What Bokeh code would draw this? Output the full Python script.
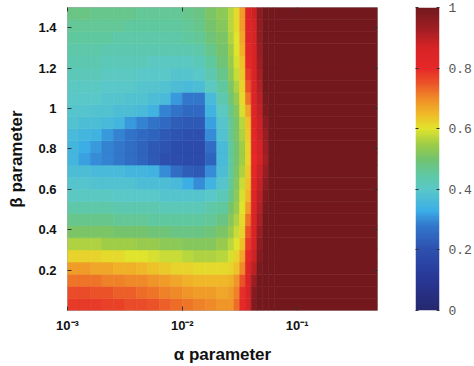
import numpy as np
from bokeh.plotting import figure
from bokeh.layouts import row
from bokeh.models import (LinearColorMapper, FixedTicker, CustomJSTickFormatter,
                          Range1d, ColumnDataSource, LinearAxis, LogAxis)
from bokeh.transform import transform
from bokeh.embed import file_html
from bokeh.resources import INLINE

# ---- data: cell edges (log10 alpha, beta) and values ----
log_alpha_edges = [-3.0, -2.9, -2.8, -2.7, -2.6, -2.5, -2.4, -2.3, -2.2, -2.1, -2.0,
                   -1.9, -1.8, -1.7, -1.6, -1.55, -1.5, -1.45, -1.4, -1.35, -1.3,
                   -1.25, -1.2, -0.3]
beta_edges = [0.0, 0.06, 0.12, 0.18, 0.24, 0.30, 0.36, 0.42, 0.48, 0.54, 0.60, 0.66,
              0.72, 0.78, 0.84, 0.90, 0.96, 1.02, 1.08, 1.14, 1.20, 1.26, 1.32, 1.38,
              1.44, 1.50]

Z = [
    [0.78,0.78,0.78,0.77,0.77,0.76,0.76,0.75,0.74,0.73,0.72,0.71,0.70,0.69,0.69,0.73,0.80,0.87,0.98,1,1,1,1],
    [0.76,0.76,0.75,0.75,0.74,0.74,0.73,0.72,0.71,0.70,0.69,0.68,0.68,0.67,0.68,0.71,0.79,0.86,0.97,1,1,1,1],
    [0.72,0.72,0.72,0.71,0.71,0.70,0.70,0.69,0.68,0.67,0.66,0.65,0.65,0.65,0.66,0.69,0.75,0.85,0.94,1,1,1,1],
    [0.68,0.68,0.67,0.67,0.66,0.66,0.65,0.64,0.63,0.62,0.62,0.61,0.61,0.61,0.62,0.64,0.70,0.83,0.90,0.99,1,1,1],
    [0.62,0.62,0.62,0.61,0.61,0.60,0.60,0.59,0.58,0.58,0.57,0.56,0.56,0.57,0.59,0.62,0.67,0.80,0.88,0.97,1,1,1],
    [0.56,0.56,0.56,0.55,0.55,0.55,0.54,0.54,0.53,0.53,0.52,0.52,0.52,0.54,0.57,0.60,0.64,0.78,0.87,0.96,1,1,1],
    [0.51,0.51,0.51,0.51,0.50,0.50,0.50,0.49,0.49,0.48,0.48,0.48,0.49,0.51,0.54,0.58,0.62,0.75,0.86,0.94,1,1,1],
    [0.47,0.47,0.47,0.47,0.46,0.46,0.46,0.45,0.45,0.45,0.45,0.45,0.46,0.48,0.52,0.56,0.61,0.72,0.86,0.92,1,1,1],
    [0.44,0.44,0.44,0.44,0.43,0.43,0.43,0.43,0.42,0.42,0.42,0.42,0.44,0.45,0.50,0.54,0.60,0.68,0.85,0.91,0.99,1,1],
    [0.41,0.41,0.41,0.41,0.40,0.40,0.40,0.40,0.39,0.39,0.39,0.39,0.40,0.42,0.47,0.53,0.59,0.65,0.84,0.90,0.98,1,1],
    [0.39,0.39,0.38,0.38,0.38,0.38,0.37,0.37,0.37,0.36,0.33,0.30,0.34,0.39,0.46,0.52,0.58,0.64,0.83,0.89,0.96,1,1],
    [0.37,0.37,0.36,0.36,0.36,0.35,0.35,0.34,0.30,0.26,0.23,0.22,0.30,0.37,0.45,0.51,0.56,0.63,0.82,0.88,0.94,1,1],
    [0.35,0.32,0.30,0.29,0.28,0.26,0.24,0.22,0.20,0.19,0.18,0.18,0.24,0.36,0.45,0.50,0.55,0.62,0.80,0.87,0.92,1,1],
    [0.35,0.33,0.31,0.29,0.28,0.26,0.24,0.22,0.21,0.19,0.18,0.18,0.26,0.36,0.45,0.50,0.55,0.62,0.81,0.87,0.93,1,1],
    [0.36,0.35,0.34,0.31,0.29,0.27,0.25,0.24,0.22,0.21,0.20,0.20,0.30,0.38,0.46,0.51,0.56,0.63,0.82,0.88,0.94,1,1],
    [0.38,0.37,0.37,0.36,0.35,0.31,0.29,0.27,0.25,0.23,0.22,0.22,0.32,0.39,0.46,0.51,0.57,0.64,0.83,0.88,0.96,1,1],
    [0.39,0.39,0.38,0.38,0.37,0.37,0.36,0.34,0.29,0.27,0.25,0.25,0.34,0.41,0.47,0.52,0.59,0.67,0.84,0.89,0.98,1,1],
    [0.40,0.40,0.40,0.39,0.39,0.38,0.38,0.37,0.36,0.31,0.28,0.28,0.36,0.43,0.49,0.54,0.61,0.72,0.85,0.90,0.99,1,1],
    [0.41,0.41,0.41,0.40,0.40,0.40,0.39,0.39,0.38,0.37,0.36,0.37,0.41,0.45,0.51,0.56,0.62,0.75,0.85,0.91,1,1,1],
    [0.42,0.42,0.42,0.41,0.41,0.41,0.40,0.40,0.40,0.39,0.39,0.40,0.43,0.47,0.53,0.58,0.63,0.78,0.86,0.92,1,1,1],
    [0.43,0.43,0.43,0.42,0.42,0.42,0.42,0.41,0.41,0.41,0.41,0.42,0.45,0.49,0.54,0.59,0.64,0.80,0.86,0.93,1,1,1],
    [0.44,0.44,0.44,0.43,0.43,0.43,0.43,0.43,0.43,0.43,0.43,0.44,0.47,0.50,0.55,0.60,0.66,0.82,0.87,0.94,1,1,1],
    [0.45,0.45,0.45,0.45,0.44,0.44,0.44,0.44,0.44,0.44,0.45,0.46,0.49,0.51,0.56,0.60,0.67,0.83,0.87,0.95,1,1,1],
    [0.46,0.46,0.46,0.46,0.46,0.45,0.45,0.45,0.45,0.45,0.46,0.47,0.50,0.52,0.57,0.61,0.68,0.84,0.87,0.95,1,1,1],
    [0.48,0.48,0.47,0.47,0.47,0.47,0.46,0.46,0.46,0.46,0.47,0.48,0.51,0.53,0.57,0.61,0.68,0.84,0.88,0.96,1,1,1],
]

x_ticks = [0.001, 0.01, 0.1]
y_ticks = [0.2, 0.4, 0.6, 0.8, 1.0, 1.2, 1.4]
cbar_ticks = [0.0, 0.2, 0.4, 0.6, 0.8, 1.0]

# ---- colour map (jet-like, as in the reference colour bar) ----
anchors = [
    (0.00, (38, 40, 110)), (0.10, (40, 55, 150)), (0.20, (45, 80, 175)),
    (0.28, (50, 120, 205)), (0.33, (60, 175, 230)), (0.40, (90, 200, 200)),
    (0.45, (95, 200, 160)), (0.50, (115, 195, 110)), (0.55, (160, 205, 70)),
    (0.60, (225, 228, 45)), (0.65, (240, 185, 40)), (0.70, (240, 140, 40)),
    (0.75, (235, 85, 40)), (0.80, (230, 40, 40)), (0.87, (215, 35, 38)),
    (0.93, (160, 30, 35)), (1.00, (115, 25, 30)),
]
palette = []
for k in range(256):
    t = k / 255
    for (a0, c0), (a1, c1) in zip(anchors[:-1], anchors[1:]):
        if a0 <= t <= a1:
            f = (t - a0) / (a1 - a0)
            c = tuple(int(round(c0[i] + f * (c1[i] - c0[i]))) for i in range(3))
            palette.append("#%02x%02x%02x" % c)
            break
mapper = LinearColorMapper(palette=palette, low=0, high=1)

left, right, bottom, top, z = [], [], [], [], []
for i, r in enumerate(Z):
    for j, v in enumerate(r):
        left.append(10 ** log_alpha_edges[j])
        right.append(10 ** log_alpha_edges[j + 1])
        bottom.append(beta_edges[i])
        top.append(beta_edges[i + 1])
        z.append(v)
src = ColumnDataSource(dict(left=left, right=right, bottom=bottom, top=top, z=z))

p = figure(width=395, height=366, x_axis_type="log",
           x_range=Range1d(0.001, 10 ** -0.3), y_range=Range1d(0, 1.5),
           output_backend="svg", toolbar_location=None,
           min_border_left=67, min_border_top=7, min_border_bottom=53, min_border_right=18)
p.quad(left="left", right="right", bottom="bottom", top="top", source=src,
       fill_color=transform("z", mapper), line_color=transform("z", mapper), line_width=0.6)

p.grid.visible = False
p.outline_line_color = "#b0b0b0"
p.background_fill_color = "white"

empty = CustomJSTickFormatter(code="return '';")
top_ax = LogAxis(ticker=FixedTicker(ticks=x_ticks), formatter=empty)
right_ax = LinearAxis(ticker=FixedTicker(ticks=y_ticks), formatter=empty)

p.xaxis.ticker = FixedTicker(ticks=x_ticks)
p.xaxis.formatter = CustomJSTickFormatter(code="""
const e = Math.round(Math.log10(tick));
const sup = {'-':'\u207b','0':'\u2070','1':'\u00b9','2':'\u00b2','3':'\u00b3','4':'\u2074','5':'\u2075','6':'\u2076','7':'\u2077','8':'\u2078','9':'\u2079'};
return '10' + String(e).split('').map(c => sup[c]).join('');
""")
p.yaxis.ticker = FixedTicker(ticks=y_ticks)
p.yaxis.formatter = CustomJSTickFormatter(code="return String(Math.round(tick*10)/10);")

p.xaxis.axis_label = "\u03b1 parameter"
p.yaxis.axis_label = "\u03b2 parameter"
for ax in (p.xaxis[0], p.yaxis[0], top_ax, right_ax):
    ax.axis_line_color = None
    ax.major_tick_in = 4
    ax.major_tick_out = 0
    ax.major_tick_line_color = "#333333"
    ax.minor_tick_line_color = None
    ax.major_label_text_font = "Liberation Sans"
    ax.major_label_text_font_style = "bold"
    ax.major_label_text_font_size = "13px"
    ax.major_label_text_color = "#111111"
    ax.axis_label_text_font = "Liberation Sans"
    ax.axis_label_text_font_style = "bold"
    ax.axis_label_text_font_size = "17px"
    ax.axis_label_text_color = "#111111"
p.xaxis.major_label_standoff = 7
p.yaxis.major_label_standoff = 11
p.xaxis.axis_label_standoff = 9
p.yaxis.axis_label_standoff = 9
top_ax.major_label_standoff = 0
right_ax.major_label_standoff = 0
p.add_layout(top_ax, "above")
p.add_layout(right_ax, "right")

# ---- colour bar as its own small figure ----
cb = figure(width=79, height=366, x_range=Range1d(0, 1), y_range=Range1d(0, 1),
            x_axis_location=None, y_axis_location=None,
            output_backend="svg", toolbar_location=None,
            min_border_left=20, min_border_top=7, min_border_bottom=53, min_border_right=0)
levels = np.linspace(0, 1, 256).reshape(256, 1)
cb.image(image=[levels], x=0, y=0, dw=1, dh=1, color_mapper=mapper)
cb.grid.visible = False
cb.outline_line_color = None
cb_left = LinearAxis(ticker=FixedTicker(ticks=cbar_ticks), formatter=empty)
cb_right = LinearAxis(ticker=FixedTicker(ticks=cbar_ticks),
                      formatter=CustomJSTickFormatter(code="return String(Math.round(tick*10)/10);"))
for ax in (cb_left, cb_right):
    ax.axis_line_color = None
    ax.major_tick_in = 3
    ax.major_tick_out = 0
    ax.major_tick_line_color = "#333333"
    ax.minor_tick_line_color = None
cb_left.major_label_standoff = 0
cb_right.major_label_text_font = "Liberation Mono"
cb_right.major_label_text_font_size = "13px"
cb_right.major_label_text_color = "#555555"
cb_right.major_label_standoff = 9
cb.add_layout(cb_left, "left")
cb.add_layout(cb_right, "right")

layout = row(p, cb, spacing=0)
open("out.html", "w", encoding="utf-8").write(file_html(layout, INLINE))
